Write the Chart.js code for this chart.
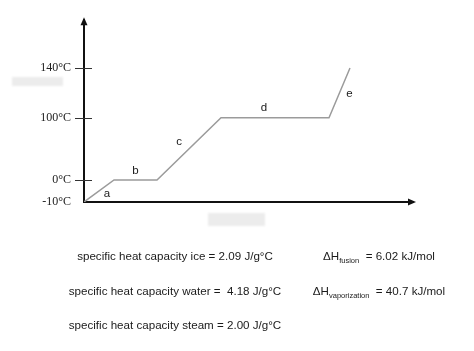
<!DOCTYPE html>
<html><head><meta charset="utf-8">
<script src="https://cdn.jsdelivr.net/npm/chart.js@4"></script>
<style>html,body{margin:0;padding:0;background:#fff;overflow:hidden}#wrap{width:474px;height:351px;position:relative}</style>
</head><body><div id="wrap"><canvas id="c" width="474" height="351"></canvas></div>
<script>
// ---- data ----
const stages = ['a', 'b', 'c', 'd', 'e'];
const heatAdded = [0, 30, 73, 137, 245, 266];          // arbitrary heat units
const temperatures = [-10, 0, 0, 100, 100, 140];        // °C
const tickTemps = [-10, 0, 100, 140];
const tickLabels = ['-10°C', '0°C', '100°C', '140°C'];
const heatCapacityLines = [
  'specific heat capacity ice = 2.09 J/g°C',
  'specific heat capacity water =  4.18 J/g°C',
  'specific heat capacity steam = 2.00 J/g°C'
];
const enthalpyNames = ['fusion', 'vaporization'];
const enthalpyValues = ['6.02 kJ/mol', '40.7 kJ/mol'];

// schematic (non-linear) placement of the temperature levels on the drawing
const schematicLevel = { '-10': 0, '0': 23, '100': 88, '140': 140 };
const level = t => schematicLevel[String(t)];

const decor = {
  id: 'decor',
  afterDraw(chart) {
    const ctx = chart.ctx, ca = chart.chartArea;
    const xs = chart.scales.x, ys = chart.scales.y;
    ctx.save();
    // blurred redacted boxes (axis titles)
    ctx.filter = 'blur(1px)';
    ctx.fillStyle = '#ececec';
    ctx.fillRect(12, 77, 51, 9);
    ctx.fillRect(208, 213, 57, 13);
    ctx.filter = 'none';
    // arrows
    ctx.fillStyle = '#111';
    ctx.beginPath();
    ctx.moveTo(ca.left, ca.top - 3); ctx.lineTo(ca.left - 3.5, ca.top + 5); ctx.lineTo(ca.left + 3.5, ca.top + 5); ctx.closePath(); ctx.fill();
    ctx.beginPath();
    ctx.moveTo(ca.right + 3, ca.bottom); ctx.lineTo(ca.right - 5, ca.bottom - 3.5); ctx.lineTo(ca.right - 5, ca.bottom + 3.5); ctx.closePath(); ctx.fill();
    // crossing tick marks
    ctx.strokeStyle = '#333'; ctx.lineWidth = 1;
    tickTemps.forEach(t => {
      if (level(t) === 0) return;
      const y = Math.round(ys.getPixelForValue(level(t))) + 0.5;
      ctx.beginPath(); ctx.moveTo(ca.left - 9, y); ctx.lineTo(ca.left + 8, y); ctx.stroke();
    });
    // stage labels
    const offs = [[8, 3], [0, -9], [-10, -7], [-11, -10], [10, 1]];
    ctx.fillStyle = '#1a1a1a'; ctx.font = '11.5px "Liberation Sans"';
    ctx.textAlign = 'center'; ctx.textBaseline = 'middle';
    stages.forEach((s, i) => {
      const x = (xs.getPixelForValue(heatAdded[i]) + xs.getPixelForValue(heatAdded[i + 1])) / 2;
      const y = (ys.getPixelForValue(level(temperatures[i])) + ys.getPixelForValue(level(temperatures[i + 1]))) / 2;
      ctx.fillText(s, x + offs[i][0], y + offs[i][1]);
    });
    // constants text
    const F = '11.6px "Liberation Sans"', FS = '7.5px "Liberation Sans"';
    const rows = [257, 292, 326];
    heatCapacityLines.forEach((txt, i) => { ctx.font = F; ctx.fillText(txt, 175, rows[i]); });
    ctx.textAlign = 'left';
    enthalpyNames.forEach((n, i) => {
      const a = 'ΔH', b = n, c = '  = ' + enthalpyValues[i];
      ctx.font = F; const wa = ctx.measureText(a).width, wc = ctx.measureText(c).width;
      ctx.font = FS; const wb = ctx.measureText(b).width;
      let x = 379 - (wa + wb + wc) / 2; const y = rows[i];
      ctx.font = F; ctx.fillText(a, x, y); x += wa;
      ctx.font = FS; ctx.fillText(b, x, y + 4); x += wb;
      ctx.font = F; ctx.fillText(c, x, y);
    });
    ctx.restore();
  }
};

new Chart(document.getElementById('c'), {
  type: 'line',
  data: {
    datasets: [{
      data: heatAdded.map((x, i) => ({ x, y: level(temperatures[i]) })),
      borderColor: '#9b9b9b', borderWidth: 1.5, pointRadius: 0, tension: 0, fill: false
    }]
  },
  options: {
    responsive: false, animation: false,
    layout: { padding: { top: 12, right: 61, left: 0, bottom: 0 } },
    plugins: { legend: { display: false }, tooltip: { enabled: false } },
    scales: {
      x: {
        type: 'linear', min: 0, max: 329,
        ticks: { display: false }, grid: { display: false, drawTicks: false },
        border: { display: true, color: '#111', width: 2 },
        afterFit: s => { s.height = 149; }
      },
      y: {
        type: 'linear', min: 0, max: 190,
        afterBuildTicks: s => { s.ticks = tickTemps.map(t => ({ value: level(t) })); },
        ticks: {
          autoSkip: false, padding: 13, color: '#222',
          font: { family: 'Liberation Serif', size: 12 },
          callback: (v, i) => tickLabels[i]
        },
        grid: { display: false, drawTicks: false },
        border: { display: true, color: '#111', width: 2 },
        afterFit: s => { s.width = 84; }
      }
    }
  },
  plugins: [decor]
});
</script></body></html>
